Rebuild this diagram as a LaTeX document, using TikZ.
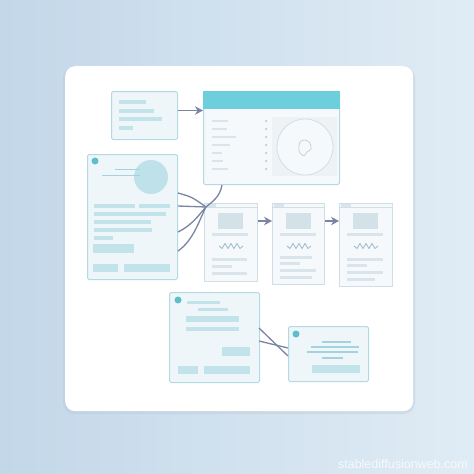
\documentclass[tikz,border=0pt]{standalone}
\usepackage{tikz}
\usepackage{xcolor}
\usepackage{fontspec}
\newfontfamily\markfont{Liberation Sans}
\usetikzlibrary{calc,
	positioning,
	arrows.meta,
	shapes}
\definecolor{skyl}{HTML}{C3D7E9}
\definecolor{skyr}{HTML}{E0ECF5}
\definecolor{frame}{HTML}{B3D9E4}
\definecolor{paper}{HTML}{EEF6F9}
\definecolor{tealbar}{HTML}{C3E3EB}
\definecolor{tealline}{HTML}{A3D3DE}
\definecolor{tealbig}{HTML}{BFE2EA}
\definecolor{tealdot}{HTML}{5DBFCB}
\definecolor{tealhead}{HTML}{6ECFDC}
\definecolor{wire}{HTML}{7A85A4}
\definecolor{greyline}{HTML}{D2DEE6}
\definecolor{greyfill}{HTML}{F6F9FB}
\definecolor{greybar}{HTML}{DAE4EB}
\definecolor{greybox}{HTML}{D3E1E8}
\definecolor{panelgrey}{HTML}{EEF2F4}
\definecolor{wave}{HTML}{A3BFCE}
\tikzstyle{sheet}=[fill=white, rounded corners=10pt, inner sep=0, anchor=north west,
		minimum width=348pt, minimum height=345pt]
\tikzstyle{pane}=[draw=frame, fill=paper, line width=1pt, rounded corners=1.5pt,
		inner sep=0, anchor=north west]
\tikzstyle{page}=[draw=greyline, fill=greyfill, line width=0.9pt, inner sep=0,
		anchor=north west]
\tikzstyle{bar}=[fill=tealbar]
\tikzstyle{tbar}=[fill=tealline]
\tikzstyle{gbar}=[fill=greybar]
\tikzstyle{dot}=[circle, fill=tealdot, inner sep=0, minimum size=7pt]
\tikzstyle{link}=[draw=wire, line width=1.3pt]
\tikzstyle{tip}=[-{Stealth[length=8pt, width=8.5pt]}]
\tikzstyle{zig}=[draw=wave, line width=0.9pt, line join=round]

\begin{document}
\begin{tikzpicture}[x=1pt, y=-1pt]
	\useasboundingbox (0,0) rectangle (474,474);
	\shade[left color=skyl, right color=skyr] (0,0) rectangle (474,474);
	\fill[skyl!80!gray, opacity=0.35, rounded corners=11pt] (63,67) rectangle (415,414);
	\node[sheet] (sheet) at (65,66) {};

	% notes and main window
	\node[pane, minimum width=66pt, minimum height=48pt] (notes) at (111,91) {};
	\fill[bar] (119,100) rectangle (146,104);
	\fill[bar] (119,109) rectangle (154,113);
	\fill[bar] (119,117) rectangle (162,121);
	\fill[bar] (119,126) rectangle (133,130);

	\node[pane, fill=greyfill, minimum width=136pt, minimum height=93pt] (main) at (203,91) {};
	\fill[tealhead] (main.north west) rectangle ($(main.north east)+(0,18)$);
	\foreach \y/\w in {121/16,129/15,137/24,145/18,153/10,161/11,169/16} {
		\fill[gbar] (212,\y-1.2) rectangle (212+\w,\y+1.2);
		\fill[greybar!60!gray] (266,\y) circle (1pt);
	}
	\fill[panelgrey] (272,117) rectangle (337,176);
	\draw[draw=greyline, fill=greyfill, line width=0.8pt] (305,147) circle (28pt);
	\draw[draw=greybox!80!gray, line width=0.7pt] plot[smooth cycle] coordinates
		{(300,142) (305,140) (310,143) (311,149) (307,152) (304,156) (299,151)};

	\coordinate (a1) at ($(notes.east)+(0,-5)$);
	\draw[link, tip] (a1) -- (a1 -| main.west);

	% form
	\node[pane, minimum width=90pt, minimum height=125pt] (form) at (87,154) {};
	\node[dot] (d1) at (95,161) {};
	\fill[tealbig] (151,177) circle (17pt);
	\draw[draw=tealline, line width=1pt] (115,169) -- (140,169);
	\draw[draw=tealline, line width=1pt] (102,175) -- (140,175);
	\fill[bar] (94,204) rectangle (135,208);
	\fill[bar] (139,204) rectangle (170,208);
	\fill[bar] (94,212) rectangle (166,216);
	\fill[bar] (94,220) rectangle (151,224);
	\fill[bar] (94,228) rectangle (152,232);
	\fill[bar] (94,236) rectangle (113,240);
	\fill[bar] (93,244) rectangle (134,253);
	\fill[bar] (93,264) rectangle (118,272);
	\fill[bar] (124,264) rectangle (170,272);

	% cards
	\node[page, minimum width=53pt, minimum height=78pt] (c1) at (204,203) {};
	\node[page, minimum width=52pt, minimum height=81pt] (c2) at (272,203) {};
	\node[page, minimum width=53pt, minimum height=83pt] (c3) at (339,203) {};
	\foreach \c in {c1,c2,c3} {
		\draw[draw=greyline, line width=0.6pt] ($(\c.north west)+(0,4)$) -- ($(\c.north east)+(0,4)$);
		\fill[gbar] ($(\c.north west)+(1.5,1)$) rectangle ($(\c.north west)+(12,4)$);
		\fill[greybox] ($(\c.north west)+(14,10)$) rectangle +(25,16);
		\fill[gbar] ($(\c.north west)+(8,30)$) rectangle +(36,2.5);
		\draw[zig] ($(\c.north west)+(15,43)$) -- ++(3,2.5) -- ++(3,-5) -- ++(3,5) -- ++(3,-5)
			-- ++(3,5) -- ++(3,-5) -- ++(3,5) -- ++(3,-2.5);
	}
	\fill[gbar] (212,258) rectangle +(35,2.5);
	\fill[gbar] (212,265) rectangle +(20,2.5);
	\fill[gbar] (212,272) rectangle +(35,2.5);
	\fill[gbar] (280,256) rectangle +(32,2.5);
	\fill[gbar] (280,262) rectangle +(20,2.5);
	\fill[gbar] (280,269) rectangle +(36,2.5);
	\fill[gbar] (280,276) rectangle +(32,2.5);
	\fill[gbar] (347,258) rectangle +(36,2.5);
	\fill[gbar] (347,264) rectangle +(20,2.5);
	\fill[gbar] (347,271) rectangle +(36,2.5);
	\fill[gbar] (347,278) rectangle +(28,2.5);

	\coordinate (a2) at ($(c1.north east)+(0,18)$);
	\draw[link, tip] (a2) -- (a2 -| c2.west);
	\coordinate (a3) at ($(c2.north east)+(0,18)$);
	\draw[link, tip] (a3) -- (a3 -| c3.west);

	\coordinate (hub) at ($(c1.north west)+(2,4)$);
	\draw[link] ($(form.north east)+(0,39)$) .. controls (192,197) .. (hub);
	\draw[link] ($(form.north east)+(0,52)$) .. controls (192,206) .. (hub);
	\draw[link] ($(form.north east)+(0,78)$) .. controls (194,224) and (200,213) .. (hub);
	\draw[link] ($(form.north east)+(0,97)$) .. controls (194,240) and (200,218) .. (hub);
	\draw[link] ($(main.south west)+(19,0)$) .. controls (220,197) and (212,202) .. (hub);

	% login and message
	\node[pane, minimum width=90pt, minimum height=90pt] (login) at (169,292) {};
	\node[dot] (d2) at (178,300) {};
	\fill[bar] (187,300.5) rectangle (220,303.5);
	\fill[bar] (198,307.5) rectangle (228,310.5);
	\fill[bar] (186,316) rectangle (239,322);
	\fill[bar] (186,327) rectangle (239,331);
	\fill[bar] (222,347) rectangle (250,356);
	\fill[bar] (178,366) rectangle (198,374);
	\fill[bar] (204,366) rectangle (250,374);

	\node[pane, minimum width=80pt, minimum height=55pt] (msg) at (288,326) {};
	\node[dot] (d3) at (296,334) {};
	\fill[tbar] (322,341) rectangle (351,343);
	\fill[tbar] (311,346) rectangle (359,348);
	\fill[tbar] (307,351) rectangle (358,353);
	\fill[tbar] (322,357) rectangle (343,359);
	\fill[bar] (312,365) rectangle (360,373);

	\draw[link] ($(login.north east)+(-1,36)$) -- ($(msg.north west)+(0,30)$);
	\draw[link] ($(login.north east)+(-1,49)$) -- ($(msg.north west)+(0,22)$);

	\node[font=\markfont\fontsize{12.5}{14}\selectfont, text=white, opacity=0.75,
		anchor=east, inner sep=0] (mark) at (468,464) {stablediffusionweb.com};
\end{tikzpicture}
\end{document}
